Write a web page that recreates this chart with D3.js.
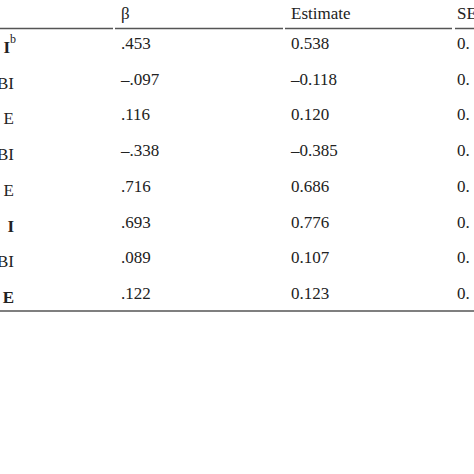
<!DOCTYPE html>
<html><head><meta charset="utf-8">
<script src="https://cdn.jsdelivr.net/npm/d3@7"></script>
<style>body{margin:0;background:#fff}svg{display:block}</style>
</head><body>
<script>
const headers = ["", "β", "Estimate", "SE"];
const labels = ["I", "BI", "E", "BI", "E", "I", "BI", "E"];
const labelBold = [true, false, false, false, false, true, false, true];
const labelSup = ["b", "", "", "", "", "", "", ""];
const beta = [".453", "\u2013.097", ".116", "\u2013.338", ".716", ".693", ".089", ".122"];
const estimate = ["0.538", "\u20130.118", "0.120", "\u20130.385", "0.686", "0.776", "0.107", "0.123"];
const se = ["0.", "0.", "0.", "0.", "0.", "0.", "0.", "0."];

const W = 474, H = 474;
const svg = d3.select("body").append("svg").attr("width", W).attr("height", H);
const font = "'Liberation Serif','Times New Roman',serif";
const fs = 17;
const x = d3.scaleOrdinal().domain([0,1,2,3]).range([0, 121, 291, 457]);
const segs = [[-5,113],[115,283],[285,452],[455,480]];
const y = d3.scalePoint().domain(d3.range(labels.length)).range([43, 293]);

svg.append("g").selectAll("text").data(headers).join("text")
  .attr("x", (d,i)=>x(i)).attr("y", 19).attr("font-family", font).attr("font-size", fs)
  .attr("fill","#222").text(d=>d);
svg.append("g").selectAll("line").data(segs).join("line")
  .attr("x1", d=>d[0]).attr("x2", d=>d[1]).attr("y1", 28.5).attr("y2", 28.5)
  .attr("stroke","#555").attr("stroke-width",1.5);
svg.append("line").attr("x1",0).attr("x2",W).attr("y1",311).attr("y2",311)
  .attr("stroke","#555").attr("stroke-width",1.5);

const cols = [beta, estimate, se];
cols.forEach((arr, c) => {
  svg.append("g").selectAll("text").data(arr).join("text")
    .attr("x", x(c+1)).attr("y", (d,i)=>y(i)+6)
    .attr("font-family", font).attr("font-size", fs).attr("fill","#222").text(d=>d);
});
svg.append("g").selectAll("text").data(labels).join("text")
  .attr("text-anchor","end").attr("x", (d,i)=>labelSup[i]?10:14).attr("y", (d,i)=>y(i)+10)
  .attr("font-family", font).attr("font-size", fs).attr("fill","#222")
  .attr("font-weight", (d,i)=>labelBold[i]?"bold":"normal").text(d=>d);
svg.append("g").selectAll("text").data(labelSup.map((s,i)=>({s,i})).filter(d=>d.s)).join("text")
  .attr("x", 10).attr("y", d=>y(d.i)+0).attr("font-family", font).attr("font-size", 12)
  .attr("fill","#222").text(d=>d.s);
</script>
</body></html>
